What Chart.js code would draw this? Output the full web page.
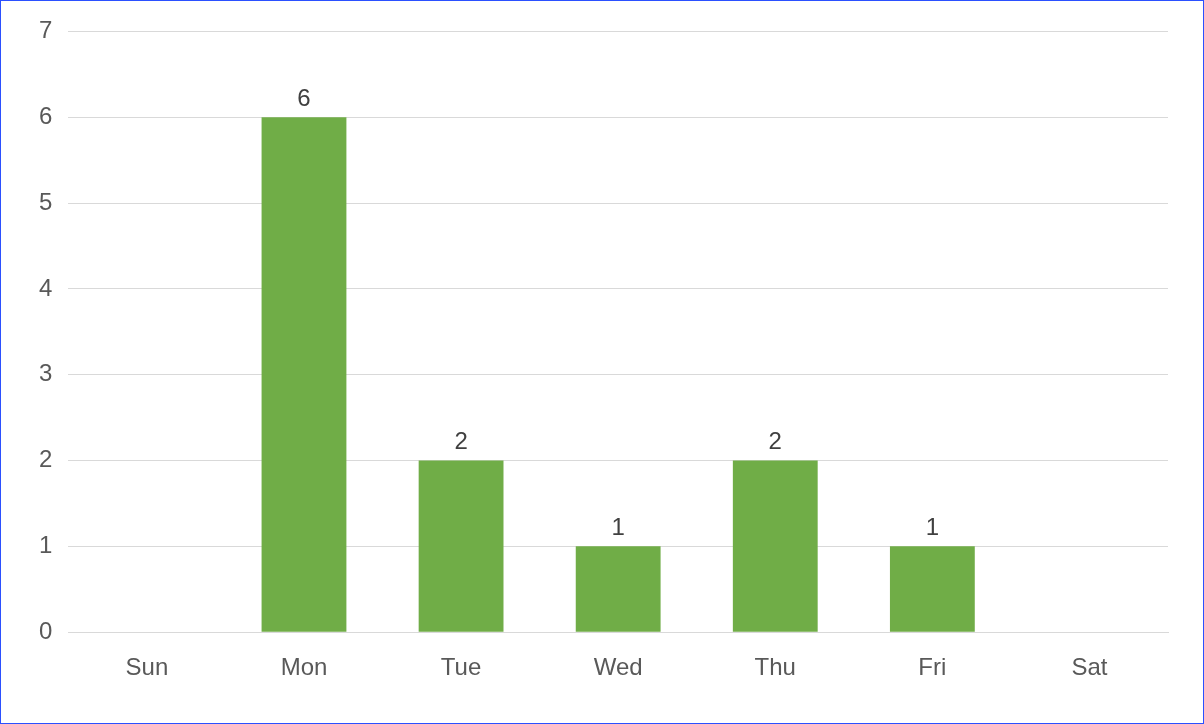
<!DOCTYPE html>
<html><head><meta charset="utf-8">
<script src="https://cdn.jsdelivr.net/npm/chart.js@4"></script>
<style>
html,body{margin:0;padding:0;background:#fff}
#wrap{width:1202px;height:722px;border:1px solid #2b50ff;position:relative}
canvas{display:block}
</style></head><body>
<div id="wrap"><canvas id="c" width="1202" height="722"></canvas></div>
<script>
const categories = ["Sun","Mon","Tue","Wed","Thu","Fri","Sat"];
const values = [0,6,2,1,2,1,0];
const yTicks = [0,1,2,3,4,5,6,7];

const labelPlugin = {
  id:'labels',
  afterDatasetsDraw(chart){
    const ctx = chart.ctx;
    const meta = chart.getDatasetMeta(0);
    ctx.save();
    ctx.font = '24px "Liberation Sans", Arial, sans-serif';
    ctx.fillStyle = '#404040';
    ctx.textAlign = 'center';
    ctx.textBaseline = 'bottom';
    meta.data.forEach((bar,i)=>{
      if (values[i] === 0) return;
      ctx.fillText(String(values[i]), bar.x, bar.y - 6);
    });
    ctx.restore();
  }
};

new Chart(document.getElementById('c'), {
  type:'bar',
  data:{labels:categories, datasets:[{data:values, backgroundColor:'#70ad47', categoryPercentage:1, barPercentage:0.54}]},
  options:{
    responsive:false, animation:false,
    layout:{padding:{left:22,right:35,top:30,bottom:26}},
    plugins:{legend:{display:false}, tooltip:{enabled:false}},
    scales:{
      x:{grid:{display:false}, border:{color:'#d9d9d9'},
        ticks:{color:'#595959', padding:14, font:{size:24, family:'"Liberation Sans", Arial, sans-serif'}}},
      y:{min:0,max:7, afterBuildTicks(s){s.ticks = yTicks.map(v=>({value:v}));},
        grid:{color:'#d9d9d9', drawTicks:false}, border:{display:false},
        ticks:{color:'#595959', padding:16, font:{size:24, family:'"Liberation Sans", Arial, sans-serif'}}}
    }
  },
  plugins:[labelPlugin]
});
</script>
</body></html>
